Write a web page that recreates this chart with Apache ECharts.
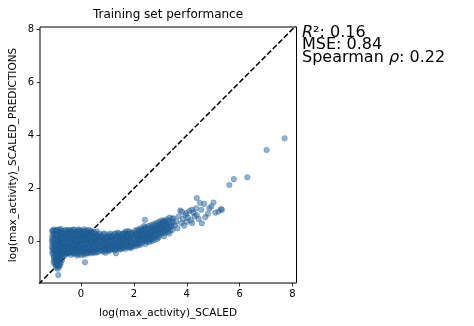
<!DOCTYPE html>
<html><head><meta charset="utf-8">
<script src="https://cdn.jsdelivr.net/npm/echarts@6/dist/echarts.min.js"></script>
<style>html,body{margin:0;padding:0;background:#fff}#c{width:474px;height:326px}</style>
</head><body><div id="c"></div><script>
const xTicks = [0, 2, 4, 6, 8];
const yTicks = [0, 2, 4, 6, 8];
const titleText = 'Training set performance';
const xLabel = 'log(max_activity)_SCALED';
const yLabel = 'log(max_activity)_SCALED_PREDICTIONS';
const statR2 = '0.16', statMSE = '0.84', statRho = '0.22';

const coreColumn = [
[-1.05,0.38],[-0.98,0.42],[-0.9,0.35],[-0.82,0.44],[-0.75,0.4],[-1.08,0.22],[-1.0,0.25],[-0.93,0.18],[-0.85,0.27],[-0.77,0.2],[-0.72,0.3],
[-1.06,0.05],[-0.99,0.1],[-0.91,0.02],[-0.84,0.12],[-0.78,0.06],[-0.71,0.1],
[-1.07,-0.1],[-1.0,-0.05],[-0.94,-0.14],[-0.87,-0.03],[-0.8,-0.1],[-0.73,-0.06],
[-1.05,-0.25],[-0.97,-0.2],[-0.9,-0.3],[-0.83,-0.18],[-0.76,-0.27],[-0.7,-0.2],
[-1.04,-0.4],[-0.96,-0.36],[-0.89,-0.45],[-0.82,-0.33],[-0.75,-0.42],
[-1.02,-0.55],[-0.95,-0.5],[-0.88,-0.6],[-0.81,-0.48],[-0.74,-0.56],
[-1.0,-0.7],[-0.93,-0.66],[-0.86,-0.75],[-0.79,-0.64],[-0.72,-0.7],
[-0.98,-0.85],[-0.91,-0.8],[-0.84,-0.9],[-0.77,-0.82],
[-0.95,-0.97],[-0.88,-1.02],[-0.82,-0.95],
[-1.03,0.3],[-0.95,0.3],[-0.87,0.0],[-0.96,-0.6],[-0.85,-0.55],[-0.92,-0.25],[-1.01,-0.15],[-0.79,-0.38],[-0.9,0.1],[-0.8,0.35],[-1.09,0.12],[-1.08,-0.32],[-0.86,-0.4],[-0.93,-0.88],[-0.78,-0.15],[-0.84,0.2],
[-1.1,0.4],[-1.1,-0.2],[-1.1,0.0],[-1.09,-0.45],[-1.04,0.45],[-0.97,0.05],[-0.94,0.42],[-0.88,0.45],[-0.89,-0.12],[-0.81,-0.22],[-0.76,0.48],[-0.74,-0.35],[-0.72,-0.45],[-0.74,0.18],
[-1.03,-0.62],[-0.98,-0.3],[-0.86,-0.65],[-0.9,-0.7],[-0.81,-0.77],[-0.76,-0.6],[-1.0,-0.45],[-0.93,-0.55],[-0.84,-0.48],[-0.97,-0.77],[-0.89,-0.9],[-0.8,-0.88],[-0.92,0.25],[-1.04,-0.78]
];
const coreBlob = [
[-0.66,0.4],[-0.63,0.2],[-0.67,0.0],[-0.62,-0.2],[-0.65,-0.4],[-0.68,-0.55],[-0.61,0.3],[-0.64,-0.1],
[-0.56,0.44],[-0.53,0.25],[-0.57,0.08],[-0.52,-0.12],[-0.55,-0.3],[-0.58,-0.5],[-0.51,0.15],[-0.54,-0.38],
[-0.46,0.35],[-0.43,0.18],[-0.47,-0.02],[-0.42,-0.22],[-0.45,-0.42],[-0.48,0.42],[-0.41,0.05],[-0.44,-0.3],
[-0.36,0.4],[-0.33,0.22],[-0.37,0.03],[-0.32,-0.15],[-0.35,-0.35],[-0.38,-0.5],[-0.31,0.12],[-0.34,-0.25],
[-0.26,0.45],[-0.23,0.27],[-0.27,0.06],[-0.22,-0.1],[-0.25,-0.28],[-0.28,-0.46],[-0.21,0.15],[-0.24,-0.4],
[-0.16,0.38],[-0.13,0.2],[-0.17,0.0],[-0.12,-0.18],[-0.15,-0.36],[-0.18,0.1],[-0.11,-0.05],[-0.14,-0.52],
[-0.06,0.42],[-0.03,0.24],[-0.07,0.05],[-0.02,-0.14],[-0.05,-0.32],[-0.08,-0.48],[-0.01,0.13],[-0.04,-0.22],
[0.04,0.36],[0.07,0.18],[0.03,-0.01],[0.08,-0.2],[0.05,-0.4],[0.02,0.08],[0.09,0.28],[0.06,-0.3],
[0.14,0.4],[0.17,0.2],[0.13,0.02],[0.18,-0.16],[0.15,-0.34],[0.12,-0.5],[0.19,0.1],[0.16,-0.25],
[0.24,0.35],[0.27,0.16],[0.23,-0.02],[0.28,-0.2],[0.25,-0.38],[0.22,0.26],[0.29,0.06],[0.26,-0.45],
[0.34,0.38],[0.37,0.2],[0.33,0.0],[0.38,-0.18],[0.35,-0.36],[0.32,0.1],[0.39,-0.27],
[0.44,0.32],[0.47,0.14],[0.43,-0.04],[0.48,-0.22],[0.45,-0.4],[0.42,0.22],[0.49,0.04],
[0.54,0.3],[0.57,0.12],[0.53,-0.06],[0.58,-0.24],[0.55,-0.42],[0.52,0.2],[0.59,-0.14],
[-0.6,0.1],[-0.5,-0.2],[-0.4,0.3],[-0.3,-0.05],[-0.2,-0.2],[-0.1,0.3],[0.0,-0.08],[0.1,0.14],[0.2,-0.1],[0.3,0.3],[0.4,-0.1],[0.5,0.08],
[-0.6,-0.3],[-0.5,0.35],[-0.4,-0.12],[-0.3,-0.42],[-0.2,0.35],[-0.1,0.05],[0.0,0.25],[0.1,-0.45],[0.2,0.32],[0.3,-0.3],[0.4,0.4],[0.5,-0.3],
[-0.58,-0.45],[-0.09,-0.4],[0.11,0.3],[-0.33,0.35]
];
const coreFill = [
[-0.69,0.33],[-0.7,0.12],[-0.71,-0.08],[-0.69,-0.3],[-0.7,-0.48],
[-0.6,0.4],[-0.59,0.22],[-0.61,-0.02],[-0.6,-0.16],[-0.59,-0.36],
[-0.5,0.28],[-0.49,0.1],[-0.51,-0.08],[-0.5,-0.28],[-0.49,-0.44],
[-0.4,0.44],[-0.39,0.14],[-0.41,-0.04],[-0.4,-0.22],[-0.39,-0.38],
[-0.3,0.26],[-0.29,0.09],[-0.31,-0.18],[-0.3,-0.3],[-0.29,0.44],
[-0.2,0.22],[-0.19,0.04],[-0.21,-0.14],[-0.2,-0.32],[-0.19,-0.45],
[-0.1,0.4],[-0.09,0.16],[-0.11,-0.12],[-0.1,-0.26],[-0.09,0.46],
[0.0,0.4],[0.01,0.1],[-0.01,-0.18],[0.0,-0.36],[0.01,-0.5],
[0.1,0.36],[0.11,0.04],[0.09,-0.1],[0.1,-0.28],[0.11,0.46],
[0.2,0.42],[0.21,0.1],[0.19,-0.04],[0.2,-0.28],[0.21,-0.44],
[0.3,0.44],[0.31,0.18],[0.29,-0.08],[0.3,-0.22],[0.31,-0.4],
[0.4,0.3],[0.41,0.12],[0.39,-0.06],[0.4,-0.3],[0.41,-0.44],
[0.5,0.36],[0.51,0.18],[0.49,-0.12],[0.5,-0.2],[0.51,-0.38],
[0.6,0.38],[0.61,0.04],[0.59,-0.32],[0.6,0.22],[0.61,-0.04]
];
const midBand = [
[0.65,0.25],[0.66,0.08],[0.64,-0.1],[0.67,-0.28],[0.63,-0.4],[0.68,0.15],
[0.75,0.22],[0.77,0.05],[0.73,-0.12],[0.76,-0.3],[0.74,0.14],[0.78,-0.2],
[0.85,0.28],[0.87,0.1],[0.83,-0.08],[0.86,-0.25],[0.84,-0.38],[0.88,0.0],
[0.95,0.2],[0.97,0.03],[0.93,-0.14],[0.96,-0.3],[0.94,0.12],[0.98,-0.22],
[1.05,0.25],[1.07,0.08],[1.03,-0.1],[1.06,-0.27],[1.04,-0.36],[1.08,0.16],
[1.15,0.22],[1.17,0.04],[1.13,-0.12],[1.16,-0.3],[1.14,0.13],[1.18,-0.2],
[1.25,0.28],[1.27,0.1],[1.23,-0.06],[1.26,-0.24],[1.24,0.0],[1.28,-0.33],
[1.35,0.24],[1.37,0.06],[1.33,-0.1],[1.36,-0.27],[1.34,0.15],[1.38,-0.18],
[1.45,0.3],[1.47,0.12],[1.43,-0.05],[1.46,-0.22],[1.44,0.04],[1.48,-0.3],
[1.55,0.27],[1.57,0.09],[1.53,-0.08],[1.56,-0.24],[1.54,0.18],[1.58,-0.15],
[1.65,0.33],[1.67,0.14],[1.63,-0.03],[1.66,-0.2],[1.64,0.06],[1.68,-0.28],
[1.75,0.3],[1.77,0.12],[1.73,-0.04],[1.76,-0.2],[1.74,0.22],[1.78,-0.12],
[1.85,0.36],[1.87,0.18],[1.83,0.0],[1.86,-0.16],[1.84,0.08],[1.88,-0.25],
[1.95,0.33],[1.97,0.15],[1.93,-0.02],[1.96,-0.17],[1.94,0.25],[1.98,-0.1],
[0.7,0.3],[0.7,0.0],[0.71,-0.2],[0.69,-0.35],
[0.8,0.18],[0.8,-0.03],[0.81,-0.18],[0.79,-0.34],
[0.9,0.3],[0.9,0.07],[0.91,-0.1],[0.89,-0.3],
[1.0,0.16],[1.0,-0.05],[1.01,-0.2],[0.99,-0.33],
[1.1,0.3],[1.1,0.0],[1.11,-0.18],[1.09,-0.32],
[1.2,0.2],[1.2,0.02],[1.21,-0.16],[1.19,-0.28],
[1.3,0.3],[1.3,0.08],[1.31,-0.14],[1.29,-0.3],
[1.4,0.2],[1.4,-0.02],[1.41,-0.2],[1.39,0.34],
[1.5,0.22],[1.5,0.0],[1.51,-0.15],[1.49,-0.28],
[1.6,0.3],[1.6,0.1],[1.61,-0.1],[1.59,-0.24],
[1.7,0.26],[1.7,0.02],[1.71,-0.14],[1.69,0.38],
[1.8,0.28],[1.8,0.05],[1.81,-0.2],[1.79,0.4],
[1.9,0.3],[1.9,0.1],[1.91,-0.08],[1.89,-0.2],[1.32,-0.44],[0.92,-0.42]
];
const upperBand = [
[2.05,0.42],[2.07,0.25],[2.03,0.1],[2.06,-0.05],[2.04,-0.18],[2.08,0.32],
[2.15,0.45],[2.17,0.28],[2.13,0.12],[2.16,-0.02],[2.14,-0.15],[2.18,0.2],
[2.25,0.5],[2.27,0.32],[2.23,0.16],[2.26,0.02],[2.24,-0.12],[2.28,0.4],
[2.35,0.48],[2.37,0.3],[2.33,0.14],[2.36,0.0],[2.34,0.22],[2.38,0.58],
[2.45,0.55],[2.47,0.36],[2.43,0.2],[2.46,0.05],[2.44,-0.08],[2.48,0.28],
[2.55,0.58],[2.57,0.4],[2.53,0.24],[2.56,0.1],[2.54,0.32],[2.58,-0.02],
[2.65,0.62],[2.67,0.44],[2.63,0.28],[2.66,0.12],[2.64,0.36],[2.68,0.02],
[2.75,0.66],[2.77,0.5],[2.73,0.32],[2.76,0.16],[2.74,0.42],[2.78,0.06],
[2.85,0.7],[2.87,0.52],[2.83,0.36],[2.86,0.2],[2.84,0.45],[2.88,0.1],
[2.95,0.74],[2.97,0.56],[2.93,0.4],[2.96,0.24],[2.94,0.16],[2.98,0.62],
[3.05,0.8],[3.07,0.6],[3.03,0.44],[3.06,0.3],[3.04,0.52],
[3.15,0.78],[3.17,0.62],[3.13,0.46],[3.16,0.32],[3.14,0.2],
[3.25,0.84],[3.27,0.66],[3.23,0.5],[3.26,0.36],[3.24,0.58],
[3.35,0.9],[3.37,0.7],[3.33,0.55],[3.36,0.4],[3.34,0.3],
[3.45,0.86],[3.47,0.72],[3.43,0.56],[3.46,0.44],[2.42,0.82],[3.12,0.76],
[2.1,0.36],[2.1,0.18],[2.11,0.02],[2.09,-0.1],
[2.2,0.4],[2.2,0.22],[2.21,0.06],[2.19,-0.08],
[2.3,0.42],[2.3,0.24],[2.31,0.08],[2.29,-0.06],
[2.4,0.46],[2.4,0.26],[2.41,0.1],
[2.5,0.48],[2.5,0.3],[2.51,0.14],[2.49,0.0],
[2.6,0.5],[2.6,0.34],[2.61,0.18],[2.59,0.06],
[2.7,0.56],[2.7,0.38],[2.71,0.22],[2.69,0.1],
[2.8,0.6],[2.8,0.42],[2.81,0.26],
[2.9,0.62],[2.9,0.46],[2.91,0.3],
[3.0,0.68],[3.0,0.36],[3.01,0.5],
[3.1,0.7],[3.1,0.38],[3.2,0.72],[3.2,0.42],[3.3,0.78],[3.3,0.48],[3.4,0.62]
];
const tailPoints = [
[3.5,0.88],[3.55,0.62],[3.6,0.75],[3.65,0.5],[3.7,0.95],[3.75,1.17],[3.8,0.7],[3.81,1.13],[3.85,0.85],[3.9,0.6],
[3.95,1.0],[3.98,1.07],[4.0,0.75],[4.05,0.9],[4.1,1.15],[4.15,0.8],[4.19,1.2],[4.25,1.09],[4.3,0.95],[4.35,1.25],
[4.38,1.64],[4.38,1.0],[4.45,0.85],[4.5,1.45],[4.55,1.2],[4.57,0.69],[4.66,1.42],[4.7,0.92],[4.8,1.05],[4.93,1.32],
[5.01,1.47],[5.08,1.09],[5.2,1.13],[5.29,1.22],[5.33,1.2],[4.85,1.25],[4.2,0.7]
];
const outliers = [
[5.61,2.13],[5.78,2.35],[6.29,2.42],[7.02,3.45],[7.70,3.89],[0.15,-0.78],[-0.86,-1.26]
];
const xRange = [-1.55, 8.15];
const yRange = [-1.56, 8.08];
const diagonal = [[-1.6,-1.6],[8.2,8.2]];

const allPoints = [].concat(coreColumn, coreBlob, coreFill, midBand, upperBand, tailPoints, outliers);
const FONT = 'DejaVu Sans';
const chart = echarts.init(document.getElementById('c'), null, {renderer:'canvas'});
const axisCommon = {
  type:'value', splitLine:{show:false}, axisLine:{show:false, onZero:false},
  axisTick:{show:true, inside:false, length:3.5, lineStyle:{color:'#000', width:0.8}},
  axisLabel:{color:'#000', fontSize:10, fontFamily:FONT, margin:6}
};
chart.setOption({
  animation:false,
  backgroundColor:'#fff',
  grid:{left:40, right:177.5, top:27, bottom:43, show:true, borderColor:'#000', borderWidth:1, backgroundColor:'transparent'},
  xAxis: Object.assign({}, axisCommon, {min:xRange[0], max:xRange[1],
    axisTick:Object.assign({}, axisCommon.axisTick, {customValues:xTicks}),
    axisLabel:Object.assign({}, axisCommon.axisLabel, {customValues:xTicks})}),
  yAxis: Object.assign({}, axisCommon, {min:yRange[0], max:yRange[1],
    axisTick:Object.assign({}, axisCommon.axisTick, {customValues:yTicks}),
    axisLabel:Object.assign({}, axisCommon.axisLabel, {customValues:yTicks})}),
  series:[
    {type:'line', data:diagonal, symbol:'none', clip:true, z:1,
     lineStyle:{color:'#000', width:1.5, type:[5.5,2.4]}},
    {type:'scatter', data:allPoints, symbolSize:5.6, z:2,
     itemStyle:{color:'rgba(31,100,160,0.62)', borderColor:'rgba(30,75,115,0.5)', borderWidth:0.6}}
  ],
  graphic:[
    {type:'text', x:168, y:15, style:{text:titleText, font:'12px "DejaVu Sans"', fill:'#000', align:'center', verticalAlign:'middle'}},
    {type:'text', x:168, y:313, style:{text:xLabel, font:'10.5px "DejaVu Sans"', fill:'#000', align:'center', verticalAlign:'middle'}},
    {type:'text', x:13, y:155, rotation:Math.PI/2, style:{text:yLabel, font:'10.5px "DejaVu Sans"', fill:'#000', align:'center', verticalAlign:'middle'}},
    {type:'text', x:302, y:33, style:{text:'{i|R}{n|²: '+statR2+'}', fill:'#000', verticalAlign:'middle',
      rich:{i:{font:'italic 16px "DejaVu Sans"', fill:'#000'}, n:{font:'16px "DejaVu Sans"', fill:'#000'}}}},
    {type:'text', x:302, y:45, style:{text:'MSE: '+statMSE, font:'16px "DejaVu Sans"', fill:'#000', verticalAlign:'middle'}},
    {type:'text', x:302, y:58, style:{text:'Spearman {i|ρ}: '+statRho, font:'16px "DejaVu Sans"', fill:'#000', verticalAlign:'middle',
      rich:{i:{font:'italic 16px "DejaVu Sans"', fill:'#000'}}}}
  ]
});
</script></body></html>
